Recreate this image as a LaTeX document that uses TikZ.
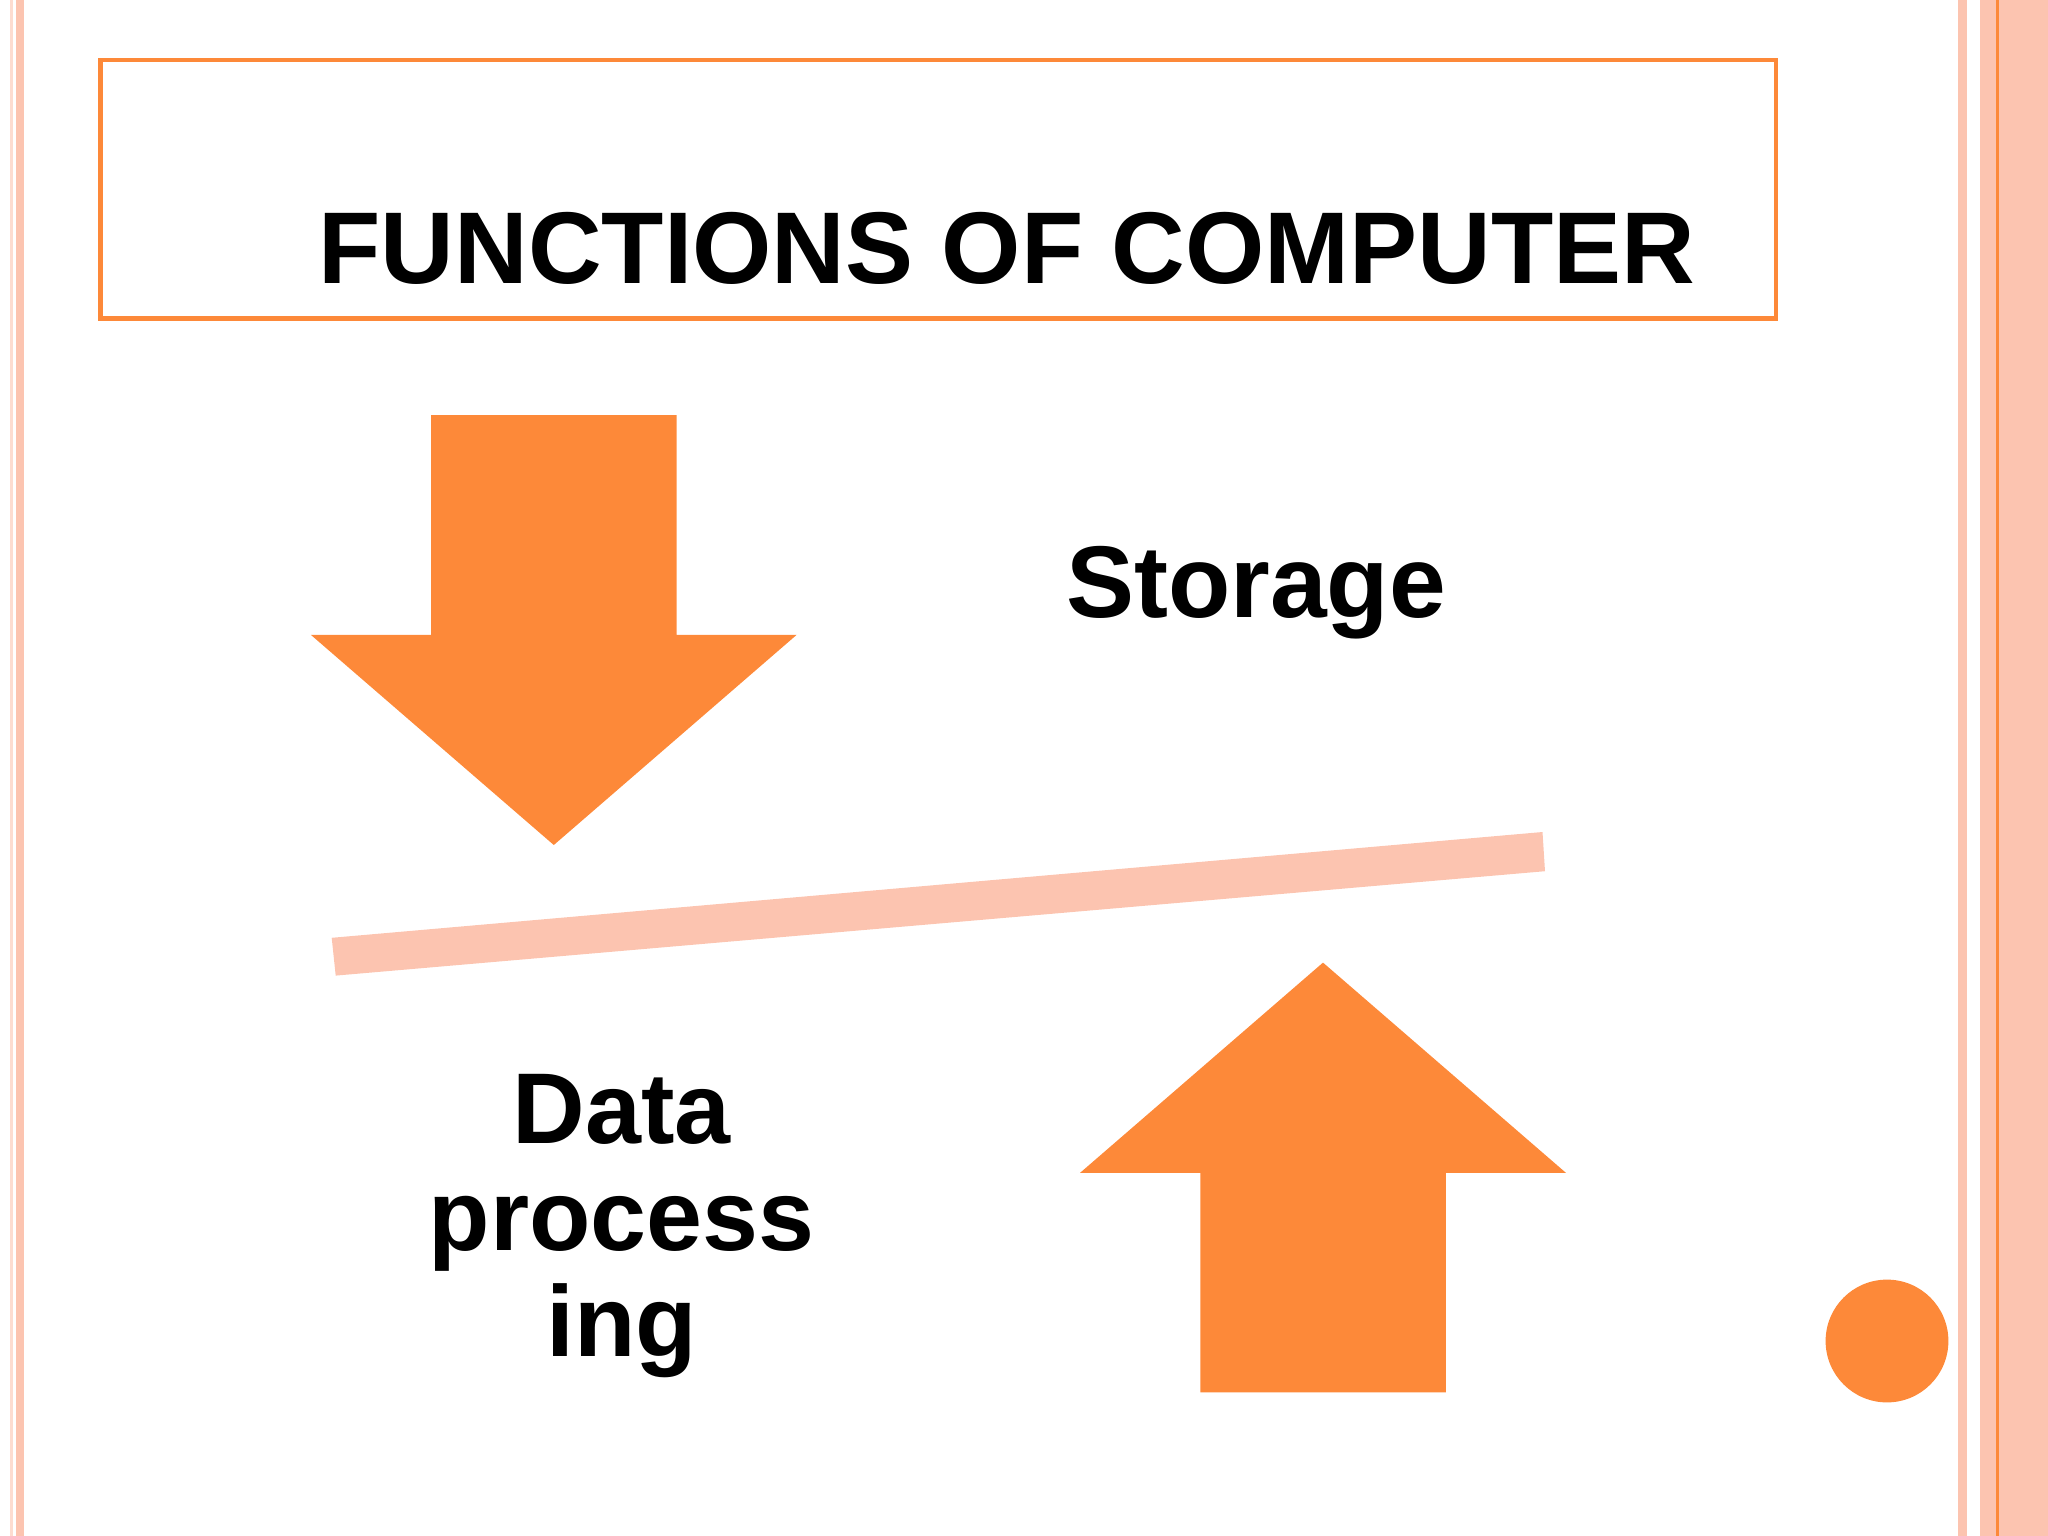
\documentclass[tikz,border=0pt]{standalone}
\usepackage{fontspec}
\setmainfont{Liberation Sans}
\definecolor{slideorange}{RGB}{253,137,57}
\definecolor{slidesalmon}{RGB}{252,196,176}
\tikzset{
  bigtext/.style={font=\fontsize{29}{31}\selectfont\bfseries, inner sep=0pt},
  bigarrow/.style={fill=slideorange},
}
\begin{document}
\begin{tikzpicture}[x=0.01cm, y=-0.01cm]
\useasboundingbox (0,0) rectangle (2048,1536);
% side stripes
\fill[slidesalmon!60] (10,0) rectangle (13,1536);
\fill[slidesalmon] (16,0) rectangle (24,1536);
\fill[slidesalmon] (1958,0) rectangle (1967,1536);
\fill[slidesalmon] (1980,0) rectangle (2048,1536);
\fill[slideorange] (1996,0) rectangle (1999,1536);
% title
\draw[slideorange, line width=1.4pt] (100.6,60) rectangle (1776,318.7);
\node[bigtext, anchor=base] (title) at (1007,283.4) {FUNCTIONS OF COMPUTER};
% arrows
\fill[bigarrow] (431,415) -- (676.5,415) -- (676.5,634.8) -- (796.7,634.8)
  -- (553.8,845) -- (310.8,634.8) -- (431,634.8) -- cycle;
\fill[bigarrow] (1200.3,1392.3) -- (1445.8,1392.3) -- (1445.8,1172.9) -- (1566,1172.9)
  -- (1323,962.6) -- (1080,1172.9) -- (1200.3,1172.9) -- cycle;
% tilted bar
\fill[slidesalmon] (331.7,937.8) -- (1542.5,832) -- (1545,871.2) -- (335.7,975.6) -- cycle;
\fill[slideorange] (1887,1341) circle[radius=61.4];
\node[bigtext, anchor=base] (storage) at (1256,617.8) {Storage};
\node[bigtext, align=center, anchor=north, font=\fontsize{28.6}{30.3}\selectfont\bfseries]
  (dataproc) at (621.7,1073.6) {Data\\process\\ing};
\end{tikzpicture}
\end{document}
